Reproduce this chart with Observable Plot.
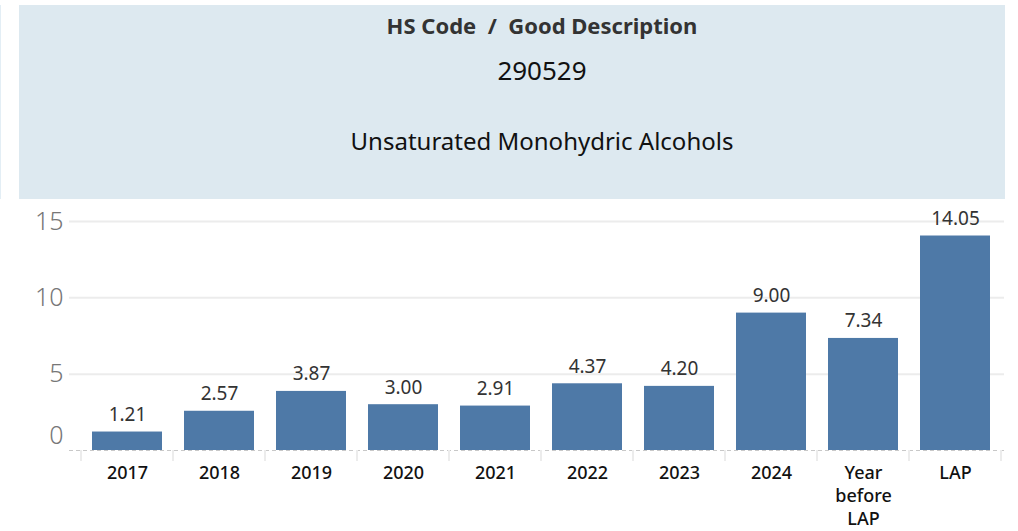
<!DOCTYPE html>
<html>
<head>
<meta charset="utf-8">
<script src="https://cdn.jsdelivr.net/npm/d3@7"></script>
<script src="https://cdn.jsdelivr.net/npm/@observablehq/plot@0.6"></script>
<style>
  html, body { margin: 0; padding: 0; background: #fff; width: 1018px; height: 531px; overflow: hidden; }
  body { font-family: "Noto Sans", "Open Sans", sans-serif; position: relative; }
  #header { position: absolute; left: 19px; top: 5px; width: 986px; height: 194px; background: #dde9f0; }
  .ht { position: absolute; left: 60px; right: 0; text-align: center; white-space: nowrap; }
  #title { top: 5px; font-size: 22px; font-weight: 700; color: #333; }
  #code { top: 47px; font-size: 26px; color: #111; }
  #desc { top: 119px; font-size: 24px; color: #111; }
  #leftline { position: absolute; left: 0; top: 5px; width: 1px; height: 194px; background: #e3eef5; }
  #chart { position: absolute; left: 0; top: 200px; }
</style>
</head>
<body>
<div id="leftline"></div>
<div id="header">
  <div id="title" class="ht">HS Code&nbsp;&nbsp;/&nbsp;&nbsp;Good Description</div>
  <div id="code" class="ht">290529</div>
  <div id="desc" class="ht">Unsaturated Monohydric Alcohols</div>
</div>
<div id="chart"></div>
<script>
const categories = ["2017", "2018", "2019", "2020", "2021", "2022", "2023", "2024", "Year before LAP", "LAP"];
const values = [1.21, 2.57, 3.87, 3.00, 2.91, 4.37, 4.20, 9.00, 7.34, 14.05];
const yTicks = [5, 10, 15];
const categoryLabels = {"Year before LAP": "Year\nbefore\nLAP"};

const data = categories.map((c, i) => ({category: c, value: values[i]}));

// separators between bands, computed from the band scale
function separators(index, scales, values, dimensions) {
  const x = scales.x;
  const g = d3.create("svg:g");
  const y0 = dimensions.height - dimensions.marginBottom;
  const edges = categories.map(c => x(c) - (x.step() - x.bandwidth()) / 2);
  edges.push(edges[edges.length - 1] + x.step());
  for (const e of edges) {
    g.append("line").attr("x1", e).attr("x2", e).attr("y1", y0).attr("y2", y0 + 11)
      .attr("stroke", "#ececec").attr("stroke-width", 2);
  }
  return g.node();
}

const chart = Plot.plot({
  width: 1018,
  height: 331,
  marginTop: 21,
  marginBottom: 81,
  marginLeft: 78,
  marginRight: 14,
  style: {fontFamily: "'Noto Sans', sans-serif", background: "transparent"},
  x: {domain: categories, paddingInner: 0.244, paddingOuter: 0.122, label: null},
  y: {domain: [0, 15], label: null},
  marks: [
    Plot.ruleY(yTicks, {stroke: "#ececec", strokeWidth: 2, insetLeft: -9}),
    Plot.axisY(yTicks, {tickSize: 0, tickPadding: 15, fontSize: 25, fontWeight: 300, fill: "#777", label: null}),
    Plot.axisY([0], {tickSize: 0, tickPadding: 15, fontSize: 25, fontWeight: 300, fill: "#777", dy: -15, label: null}),
    Plot.barY(data, {x: "category", y: "value", fill: "#4e79a7"}),
    Plot.ruleY([0], {stroke: "#c8c8c8", strokeDasharray: "4,3", strokeWidth: 1, insetLeft: -9}),
    separators,
    Plot.text(data, {x: "category", y: "value", text: d => d.value.toFixed(2), lineAnchor: "bottom", dy: -11, fontSize: 19, fill: "#333"}),
    Plot.axisX({tickSize: 0, tickPadding: 12, fontSize: 18, fontWeight: 500, fill: "#111", lineHeight: 1.28, tickFormat: d => categoryLabels[d] ?? d, label: null})
  ]
});
document.getElementById("chart").appendChild(chart);
</script>
</body>
</html>
